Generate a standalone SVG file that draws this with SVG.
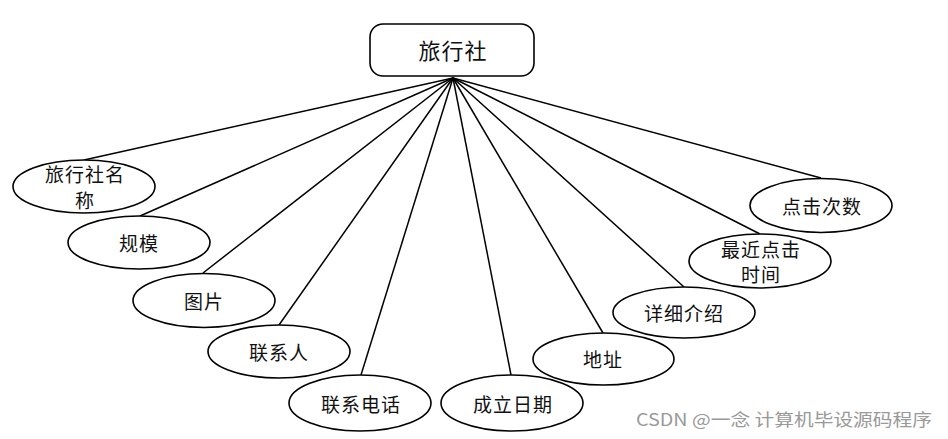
<svg xmlns="http://www.w3.org/2000/svg" width="948" height="439" viewBox="0 0 948 439">
<style>
.n{fill:#fff;stroke:#000;stroke-width:1.6}
.t{font-family:"Noto Sans CJK SC","Noto Sans",sans-serif;font-size:19px;letter-spacing:1px;fill:#111;text-anchor:middle;dominant-baseline:central}
.c line{stroke:#000;stroke-width:1.5}
.w{font-family:"Noto Sans CJK SC","Noto Sans",sans-serif;font-size:17px;fill:#999}
</style>
<rect width="948" height="439" fill="#fff"/>
<g class="c" id="connectors">
<line x1="453" y1="78" x2="84" y2="160"/>
<line x1="453" y1="78" x2="140" y2="216"/>
<line x1="453" y1="78" x2="203" y2="273"/>
<line x1="453" y1="78" x2="279" y2="325"/>
<line x1="453" y1="78" x2="361" y2="375"/>
<line x1="453" y1="78" x2="511" y2="375"/>
<line x1="453" y1="78" x2="603" y2="333"/>
<line x1="453" y1="78" x2="684" y2="287"/>
<line x1="453" y1="78" x2="760" y2="234"/>
<line x1="453" y1="78" x2="821" y2="178"/>
</g>
<g id="entity">
<rect class="n" x="370" y="24" width="164" height="52" rx="13"/>
<text class="t" x="453" y="49" style="font-size:22px">旅行社</text>
</g>
<g id="a1"><ellipse class="n" cx="84" cy="186.5" rx="71" ry="26.5"/><text class="t" x="85" y="173">旅行社名</text><text class="t" x="85" y="199">称</text></g>
<g id="a2"><ellipse class="n" cx="139" cy="242.5" rx="71" ry="26.5"/><text class="t" x="139" y="242.5">规模</text></g>
<g id="a3"><ellipse class="n" cx="204" cy="300.5" rx="71" ry="27"/><text class="t" x="204" y="300">图片</text></g>
<g id="a4"><ellipse class="n" cx="279" cy="351.5" rx="71" ry="26.5"/><text class="t" x="279" y="351">联系人</text></g>
<g id="a5"><ellipse class="n" cx="360" cy="403" rx="71" ry="28"/><text class="t" x="361" y="403">联系电话</text></g>
<g id="a6"><ellipse class="n" cx="512" cy="403" rx="71" ry="28"/><text class="t" x="513" y="403">成立日期</text></g>
<g id="a7"><ellipse class="n" cx="603.5" cy="359" rx="70.5" ry="26"/><text class="t" x="603" y="358">地址</text></g>
<g id="a8"><ellipse class="n" cx="684" cy="312.5" rx="71" ry="25.5"/><text class="t" x="684" y="312">详细介绍</text></g>
<g id="a9"><ellipse class="n" cx="760" cy="261" rx="71" ry="27"/><text class="t" x="761" y="248">最近点击</text><text class="t" x="761" y="273">时间</text></g>
<g id="a10"><ellipse class="n" cx="821" cy="205.5" rx="71" ry="27"/><text class="t" x="822" y="205">点击次数</text></g>
<text class="w" x="636" y="426" textLength="296" lengthAdjust="spacingAndGlyphs">CSDN @一念 计算机毕设源码程序</text>
</svg>
